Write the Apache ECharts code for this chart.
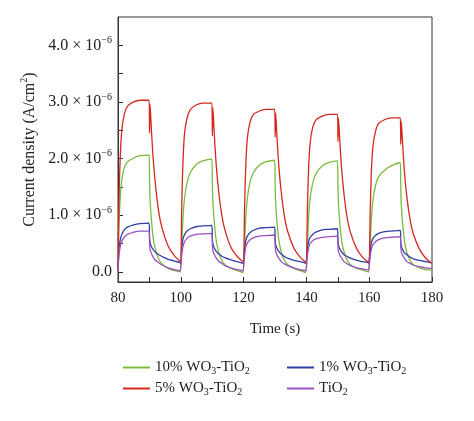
<!DOCTYPE html>
<html><head><meta charset="utf-8">
<script src="https://cdn.jsdelivr.net/npm/echarts@6/dist/echarts.min.js"></script>
<style>html,body{margin:0;padding:0;background:#fff}#c{width:474px;height:421px}</style>
</head><body><div id="c"></div>
<script>
// relative sample times within each 20 s cycle (light on at 0, off at 10)
const cycleTimes = [0,0.3,0.7,1.2,2,3,5,7,9.9,10.05,10.2,10.6,11.2,12,13,14,16,18,19.9];
const cycleStarts = [80,100,120,140,160];
// values in units of 1e-6 A/cm^2, one row per cycle
const red = [
 [0.05,1.2,2.0,2.5,2.78,2.92,3.00,3.03,3.03,2.45,2.95,2.55,2.0,1.5,1.05,0.78,0.45,0.28,0.18],
 [0.15,1.15,1.95,2.45,2.72,2.86,2.95,2.98,2.98,2.40,2.90,2.50,1.95,1.45,1.02,0.75,0.43,0.27,0.17],
 [0.15,1.1,1.88,2.36,2.63,2.77,2.84,2.87,2.87,2.38,2.80,2.42,1.88,1.40,0.98,0.72,0.42,0.26,0.16],
 [0.14,1.05,1.82,2.28,2.55,2.68,2.75,2.78,2.78,2.30,2.72,2.35,1.83,1.36,0.95,0.70,0.41,0.25,0.16],
 [0.14,1.0,1.78,2.22,2.48,2.62,2.69,2.72,2.72,2.25,2.66,2.30,1.78,1.32,0.93,0.68,0.40,0.24,0.15]
];
const green = [
 [0.0,0.8,1.3,1.62,1.84,1.94,2.01,2.05,2.06,1.6,1.3,0.95,0.6,0.38,0.22,0.14,0.06,0.02,0.0],
 [0.0,0.45,0.95,1.3,1.58,1.75,1.9,1.96,1.99,1.55,1.25,0.92,0.58,0.36,0.21,0.13,0.06,0.02,-0.01],
 [0.0,0.45,0.95,1.3,1.57,1.74,1.88,1.94,1.97,1.53,1.23,0.9,0.57,0.35,0.2,0.13,0.06,0.02,-0.01],
 [0.0,0.45,0.95,1.3,1.56,1.73,1.87,1.93,1.96,1.52,1.22,0.9,0.56,0.35,0.2,0.13,0.06,0.03,0.0],
 [0.0,0.45,0.92,1.27,1.52,1.68,1.80,1.87,1.93,1.50,1.2,0.88,0.55,0.34,0.2,0.13,0.07,0.04,0.03]
];
const blue = [
 [0.05,0.38,0.56,0.66,0.74,0.79,0.83,0.85,0.86,0.62,0.52,0.45,0.39,0.34,0.3,0.27,0.22,0.19,0.16],
 [0.14,0.42,0.58,0.66,0.72,0.76,0.80,0.81,0.82,0.60,0.50,0.43,0.37,0.32,0.28,0.25,0.21,0.18,0.15],
 [0.14,0.40,0.55,0.63,0.69,0.73,0.77,0.78,0.79,0.58,0.48,0.42,0.36,0.31,0.27,0.24,0.20,0.18,0.15],
 [0.14,0.38,0.53,0.61,0.66,0.70,0.74,0.75,0.76,0.56,0.47,0.41,0.35,0.30,0.27,0.24,0.20,0.18,0.16],
 [0.15,0.37,0.51,0.59,0.64,0.68,0.71,0.72,0.73,0.55,0.46,0.40,0.34,0.30,0.26,0.23,0.20,0.18,0.16]
];
const purple = [
 [0.0,0.28,0.44,0.54,0.61,0.66,0.70,0.72,0.72,0.50,0.40,0.33,0.26,0.2,0.16,0.12,0.07,0.04,0.02],
 [0.02,0.30,0.45,0.53,0.59,0.63,0.66,0.67,0.68,0.48,0.38,0.31,0.25,0.19,0.15,0.11,0.07,0.04,0.02],
 [0.02,0.28,0.43,0.51,0.56,0.60,0.63,0.64,0.65,0.46,0.37,0.30,0.24,0.18,0.14,0.11,0.07,0.04,0.02],
 [0.02,0.27,0.42,0.50,0.55,0.58,0.61,0.62,0.63,0.45,0.36,0.30,0.24,0.18,0.14,0.11,0.07,0.05,0.03],
 [0.03,0.26,0.40,0.48,0.53,0.57,0.60,0.61,0.62,0.45,0.36,0.30,0.24,0.18,0.15,0.12,0.09,0.07,0.06]
];
const xTicks = [80,100,120,140,160,180];
const yTicks = [0,1,2,3,4];
const yMinorTicks = [0,0.5,1,1.5,2,2.5,3,3.5,4];
const names = ['10% WO3-TiO2','1% WO3-TiO2','5% WO3-TiO2','TiO2'];
const colors = ['#7cba3e','#2f3fa8','#d5281d','#9a52c2'];

function pts(rows){const out=[];rows.forEach((r,i)=>r.forEach((v,j)=>out.push([cycleStarts[i]+cycleTimes[j],v])));return out;}
const seriesData=[green,blue,red,purple];
const font='Liberation Serif';
function fmtName(n){return n.replace(/WO3/,'WO{s|3}').replace(/TiO2/,'TiO{s|2}');}
const rich={s:{fontSize:10,verticalAlign:'bottom',padding:[8,0,0,0],fontFamily:font,color:'#222'}};
const legendPos=[[118,355],[282,355],[118,376],[282,376]];
const chart=echarts.init(document.getElementById('c'));
const lineCol='#333';
chart.setOption({
 animation:false,
 grid:{left:118,right:42,top:17,bottom:139,show:true,borderColor:lineCol,borderWidth:1,backgroundColor:'transparent'},
 legend:names.map((n,i)=>({data:[n],left:legendPos[i][0],top:legendPos[i][1],itemWidth:27,itemHeight:2,itemGap:8,icon:'rect',
   formatter:fmtName,textStyle:{fontFamily:font,fontSize:15,color:'#222',rich}})),
 xAxis:{type:'value',min:80,max:180,interval:10,
   axisLine:{onZero:false,lineStyle:{color:lineCol}},axisTick:{inside:true,length:5,lineStyle:{color:lineCol}},
   axisLabel:{customValues:xTicks,fontFamily:font,fontSize:15,color:'#222',margin:9},
   splitLine:{show:false},name:'Time (s)',nameLocation:'middle',nameGap:40,
   nameTextStyle:{fontFamily:font,fontSize:15,color:'#222'}},
 yAxis:{type:'value',min:-0.18,max:4.5,
   axisLine:{show:true,onZero:false,lineStyle:{color:lineCol}},
   axisTick:{inside:true,length:5,customValues:yMinorTicks,lineStyle:{color:lineCol}},
   axisLabel:{customValues:yTicks,fontFamily:font,fontSize:16,color:'#222',margin:6,
     formatter:v=>v===0?'0.0':v.toFixed(1)+' × 10{e|−6}',
     rich:{e:{fontSize:10,verticalAlign:'top',padding:[0,0,10,0],fontFamily:font,color:'#222'}}},
   splitLine:{show:false},name:'Current density (A/cm{e|2})',nameLocation:'middle',nameGap:77,
   nameTextStyle:{fontFamily:font,fontSize:16,color:'#222',rich:{e:{fontSize:10,padding:[0,0,10,0],fontFamily:font,color:'#222'}}}},
 series:names.map((n,i)=>({name:n,type:'line',data:pts(seriesData[i]),showSymbol:false,smooth:0.3,
   lineStyle:{width:1.3,color:colors[i]},itemStyle:{color:colors[i]}}))
});
</script></body></html>
